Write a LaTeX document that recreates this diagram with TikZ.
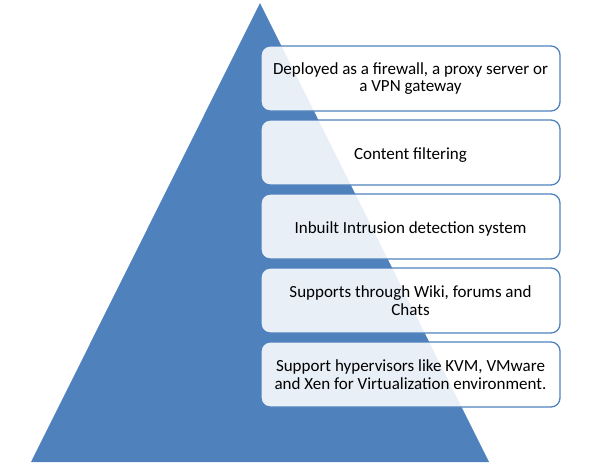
\documentclass[tikz,border=0pt]{standalone}
\usepackage{fontspec}
\setmainfont{Carlito}
\definecolor{pyrblue}{RGB}{79,129,189}
\begin{document}
\begin{tikzpicture}[x=1pt,y=-1pt,
  infobox/.style={draw=pyrblue, line width=1.3pt, fill=white, fill opacity=0.88, text opacity=1,
    rounded corners=9pt, minimum width=299pt, minimum height=65pt, align=center,
    font=\fontsize{17}{17.5}\selectfont, text=black, inner sep=0pt,
    execute at begin node={\rule{0pt}{17pt}}}]
\useasboundingbox (0,0) rectangle (590,464);
\fill[pyrblue] (260,3) coordinate (apex) -- (489,462) coordinate (br) -- (31,462) coordinate (bl) -- cycle;
\node[infobox] (b1) at (410.5,78.5) {Deployed as a firewall, a proxy server or\\a VPN gateway};
\node[infobox] (b2) at (410.5,152.5) {Content filtering};
\node[infobox] (b3) at (410.5,226.5) {Inbuilt Intrusion detection system};
\node[infobox] (b4) at (410.5,300.5) {Supports through Wiki, forums and\\Chats};
\node[infobox] (b5) at (410.5,374.5) {Support hypervisors like KVM, VMware\\and Xen for Virtualization environment.};
\end{tikzpicture}
\end{document}
